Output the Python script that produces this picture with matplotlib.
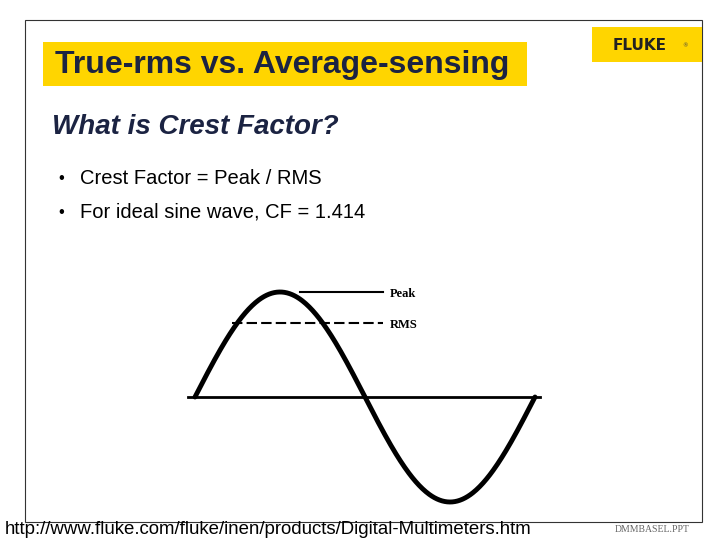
import numpy as np
import matplotlib.pyplot as plt
from matplotlib.patches import Rectangle

# slide text
TITLE = "True-rms vs. Average-sensing"
SUBTITLE = "What is Crest Factor?"
BULLETS = ["Crest Factor = Peak / RMS", "For ideal sine wave, CF = 1.414"]
URL = "http://www.fluke.com/fluke/inen/products/Digital-Multimeters.htm"
FOOTER = "DMMBASEL.PPT"

# sine illustration (one period, pixel units)
SINE_START, SINE_PERIOD = 195, 340
SINE_BASE, SINE_AMP = 397, 105
RMS_RATIO = 1 / 1.414

SANS = ["Liberation Sans", "DejaVu Sans"]
SERIF = ["Liberation Serif", "DejaVu Serif"]

fig = plt.figure(figsize=(7.28, 5.46), dpi=100)
ax = fig.add_axes([0, 0, 1, 1])
ax.set_xlim(0, 728)
ax.set_ylim(546, 0)
ax.axis("off")

ax.add_patch(Rectangle((25, 20), 677, 502, fill=False, ec="#333333", lw=0.8))
ax.add_patch(Rectangle((43, 42), 484, 44, color="#FFD500", lw=0))
ax.add_patch(Rectangle((592, 27), 110, 35, color="#FFD500", lw=0))
ax.text(640, 45, "FLUKE", fontsize=11, fontweight="heavy", ha="center",
        va="center", color="#222222", family="DejaVu Sans")
ax.text(685, 46, "®", fontsize=4, ha="center", va="center", color="#444444")

ax.text(55, 65, TITLE, fontsize=23, fontweight="bold", va="center",
        color="#1B2342", family=SANS)
ax.text(52, 127, SUBTITLE, fontsize=20, fontweight="bold", style="italic",
        va="center", color="#1B2342", family=SANS)
for i, b in enumerate(BULLETS):
    y = 179 + 33 * i
    ax.text(58, y, "•", fontsize=12, va="center", family=SANS)
    ax.text(80, y, b, fontsize=14.5, va="center", family=SANS)

x = np.linspace(SINE_START, SINE_START + SINE_PERIOD, 400)
y = SINE_BASE - SINE_AMP * np.sin(2 * np.pi * (x - SINE_START) / SINE_PERIOD)
ax.plot([188, 540], [SINE_BASE, SINE_BASE], color="black", lw=2)
ax.plot(x, y, color="black", lw=3.5, solid_capstyle="round")
peak_y = SINE_BASE - SINE_AMP
rms_y = SINE_BASE - SINE_AMP * RMS_RATIO
ax.plot([300, 383], [peak_y, peak_y], color="black", lw=1.5)
ax.plot([232, 383], [rms_y, rms_y], color="black", lw=1.5, ls=(0, (5, 2)))
ax.text(390, peak_y + 2, "Peak", fontsize=9, fontweight="bold", va="center",
        family=SERIF)
ax.text(390, rms_y + 2, "RMS", fontsize=9, fontweight="bold", va="center",
        family=SERIF)

ax.text(5, 529, URL, fontsize=13.4, va="center", family=SANS)
ax.text(615, 529, FOOTER, fontsize=7, va="center", color="#666666",
        family=SERIF)

fig.savefig("out.png", dpi=100)
